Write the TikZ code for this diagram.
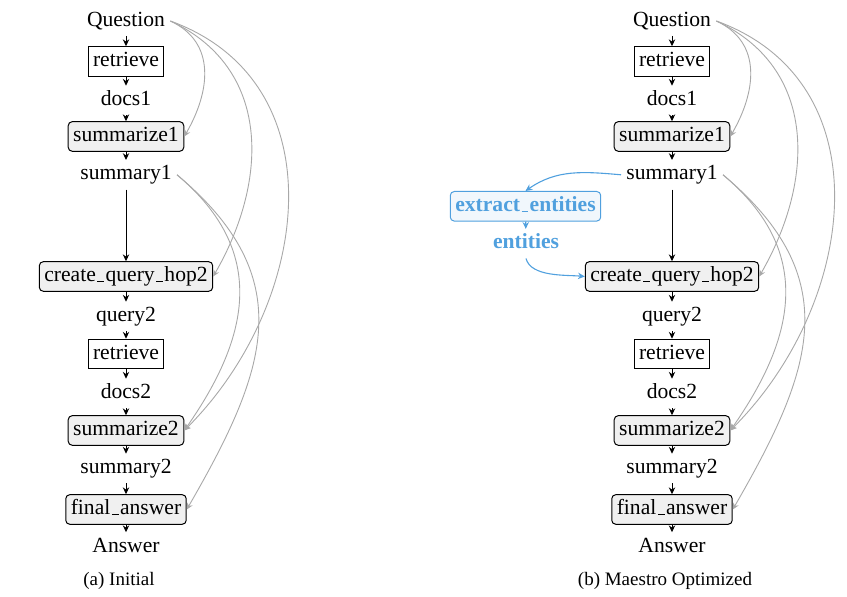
\documentclass[tikz,border=0pt]{standalone}
\usepackage{fontspec}
\setmainfont{Liberation Serif}
\usetikzlibrary{arrows.meta}
\definecolor{myblue}{RGB}{80,160,222}
\definecolor{boxgray}{RGB}{240,240,240}
\definecolor{curvegray}{RGB}{168,168,168}
\newcommand{\usc}{\kern.07em\rule{.31em}{.4pt}\kern.07em}
\newcommand{\pipeline}[1]{%
  \node (q) at (126,-21) {Question};
  \node[toolbox] (r1) at (126,-61.5) {retrieve};
  \node (d1) at (126,-100.5) {docs1};
  \node[llmbox] (s1) at (126,-136.5) {summarize1};
  \node (sm1) at (126,-174.8) {summary1};
  \node[llmbox] (c) at (126,-276.5) {create\usc query\usc hop2};
  \node (q2) at (126,-316.5) {query2};
  \node[toolbox] (r2) at (126,-354) {retrieve};
  \node (d2) at (126,-393.5) {docs2};
  \node[llmbox] (s2) at (126,-430.5) {summarize2};
  \node (sm2) at (126,-468.5) {summary2};
  \node[llmbox] (f) at (126,-509.5) {final\usc answer};
  \node (ans) at (126,-547) {Answer};
  \node[captxt] (capt) at (119,-580) {#1};
  \draw[flow] (q) -- (r1);
  \draw[flow] (r1) -- (d1);
  \draw[flow] (d1) -- (s1);
  \draw[flow] (s1) -- (sm1);
  \draw[flow] (sm1) -- (c);
  \draw[flow] (c) -- (q2);
  \draw[flow] (q2) -- (r2);
  \draw[flow] (r2) -- (d2);
  \draw[flow] (d2) -- (s2);
  \draw[flow] (s2) -- (sm2);
  \draw[flow] (sm2) -- (f);
  \draw[flow] (f) -- (ans);
  \draw[skiparrow] (q.east) to[out=-25,in=60,looseness=1.13] (s1.east);
  \draw[skiparrow] (q.east) to[out=-25,in=60,looseness=1.1] (c.east);
  \draw[skiparrow] (q.east) to[out=-20,in=45,looseness=1.12] (s2.east);
  \draw[skiparrow] (sm1.east) to[out=-40,in=55,looseness=1.17] (s2.east);
  \draw[skiparrow] (sm1.east) to[out=-40,in=60,looseness=1.23] (f.east);
}
\begin{document}
\begin{tikzpicture}[x=0.5pt,y=0.5pt,
  every node/.style={font=\fontsize{10.8}{13}\selectfont, text height=7.4pt, text depth=2.2pt, inner xsep=2.5pt, inner ysep=2.4pt},
  toolbox/.style={draw, line width=0.5pt, inner ysep=2.6pt},
  llmbox/.style={draw, line width=0.5pt, rounded corners=2pt, fill=boxgray, inner ysep=2.6pt},
  newbox/.style={draw=myblue, line width=0.5pt, rounded corners=2pt, fill=myblue!8, text=myblue, inner ysep=2.6pt, font=\fontsize{10.8}{13}\selectfont\bfseries},
  newlabel/.style={text=myblue, font=\fontsize{10.8}{13}\selectfont\bfseries},
  flow/.style={-{Stealth[length=3.4pt,width=3.2pt]}, line width=0.5pt},
  skiparrow/.style={-{Stealth[length=3.2pt,width=3pt]}, line width=0.45pt, draw=curvegray},
  newflow/.style={-{Stealth[length=3.4pt,width=3.2pt]}, line width=0.55pt, draw=myblue},
  captxt/.style={font=\fontsize{9.5}{11}\selectfont}
]
\useasboundingbox (0,0) rectangle (847,-597);
\begin{scope}[name prefix=a-]
  \pipeline{(a) Initial}
\end{scope}
\begin{scope}[xshift=273pt, name prefix=b-]
  \pipeline{(b) Maestro Optimized}
  \node[newbox] (ex) at (-20.5,-206.3) {extract\usc entities};
  \node[newlabel] (ent) at (-20,-243.7) {entities};
  \draw[newflow] (sm1.west) to[out=175,in=35] (ex.north);
  \draw[newflow] (ex) -- (ent);
  \draw[newflow] (ent.south) to[out=-75,in=175,looseness=0.8] (c.west);
\end{scope}
\end{tikzpicture}
\end{document}
